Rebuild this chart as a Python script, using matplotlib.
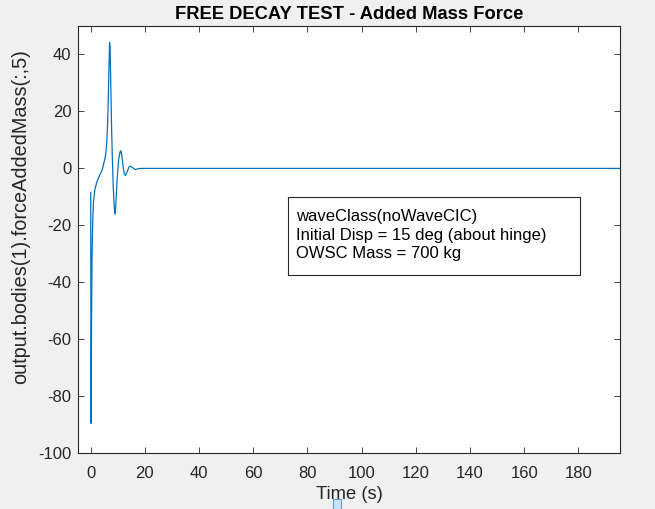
import numpy as np
import matplotlib.pyplot as plt
from matplotlib.patches import Rectangle

plt.rcParams['font.family'] = ['Liberation Sans', 'DejaVu Sans']
plt.rcParams['axes.unicode_minus'] = False

# time (s) and added mass force
time = [0.0, 0.1, 0.2, 0.3, 0.4, 0.5, 0.75, 1.0, 1.5, 2.25, 3.0, 3.5, 4.25, 4.75,
        5.25, 5.6, 5.9, 6.2, 6.5, 6.75, 6.95, 7.15, 7.4, 7.7, 8.0, 8.3, 8.6, 8.85,
        9.1, 9.4, 9.8, 10.3, 10.8, 11.1, 11.5, 11.9, 12.4, 12.9, 13.5, 14.2, 14.8,
        15.5, 16.5, 17.5, 19.0, 40.0, 100.0, 195.5]
force = [-8.5, -89.5, -72.0, -55.0, -40.0, -30.0, -18.0, -12.0, -7.5, -4.8, -3.0, -2.0,
         -0.5, 1.5, 3.5, 5.5, 9.0, 15.0, 25.0, 36.0, 44.2, 42.0, 30.0, 14.0, 3.0,
         -6.0, -12.5, -15.5, -16.0, -10.0, -3.0, 3.0, 5.8, 6.2, 4.5, 1.0, -2.0, -2.5,
         -1.0, 0.6, 0.8, 0.2, -0.4, -0.1, 0.0, 0.0, 0.0, 0.0]

title = 'FREE DECAY TEST - Added Mass Force'
xlabel = 'Time (s)'
ylabel = 'output.bodies(1).forceAddedMass(:,5)'
notes = ['waveClass(noWaveCIC)', 'Initial Disp = 15 deg (about hinge)', 'OWSC Mass = 700 kg']

bg = '#f0f0f0'
dark = '#262626'

fig = plt.figure(figsize=(6.55, 5.09), dpi=100, facecolor=bg)
ax = fig.add_axes([0.1195, 0.1094, 0.947 - 0.1195, 0.949 - 0.1094])

ax.plot(time, force, color='#0072BD', lw=0.9)

ax.set_xlim(-4.6, 195.5)
ax.set_ylim(-100, 50)
ax.set_xticks(np.arange(0, 181, 20))
ax.set_yticks(np.arange(-100, 41, 20))

ax.tick_params(direction='in', length=4.5, width=0.6, colors=dark, labelsize=12,
               top=True, right=True, pad=5)
ax.tick_params(axis='x', pad=9)
for s in ax.spines.values():
    s.set_color(dark)
    s.set_linewidth(0.8)

ax.set_title(title, fontsize=13.2, fontweight='bold', color='black', pad=5)
ax.set_xlabel(xlabel, fontsize=13.2, color=dark, labelpad=4)
ax.set_ylabel(ylabel, fontsize=14.3, color=dark)
ax.yaxis.set_label_coords(-0.088, 0.554)

# annotation box
ax.add_patch(Rectangle((72.8, -37.5), 180.6 - 72.8, 27.3, facecolor='white',
                       edgecolor=dark, lw=0.8, zorder=3))
ax.text(75.8, -14.3, '\n'.join(notes), fontsize=12, color='black', va='top', ha='left',
        linespacing=1.28, zorder=4)

# small datatip marker at bottom edge of the figure
fig.patches.append(Rectangle((333 / 655, 0), 8 / 655, 10 / 509, transform=fig.transFigure,
                             facecolor='#cfe3f6', edgecolor='#5b9bd5', lw=0.8, figure=fig))

fig.savefig('out.png', dpi=100, facecolor=bg)
